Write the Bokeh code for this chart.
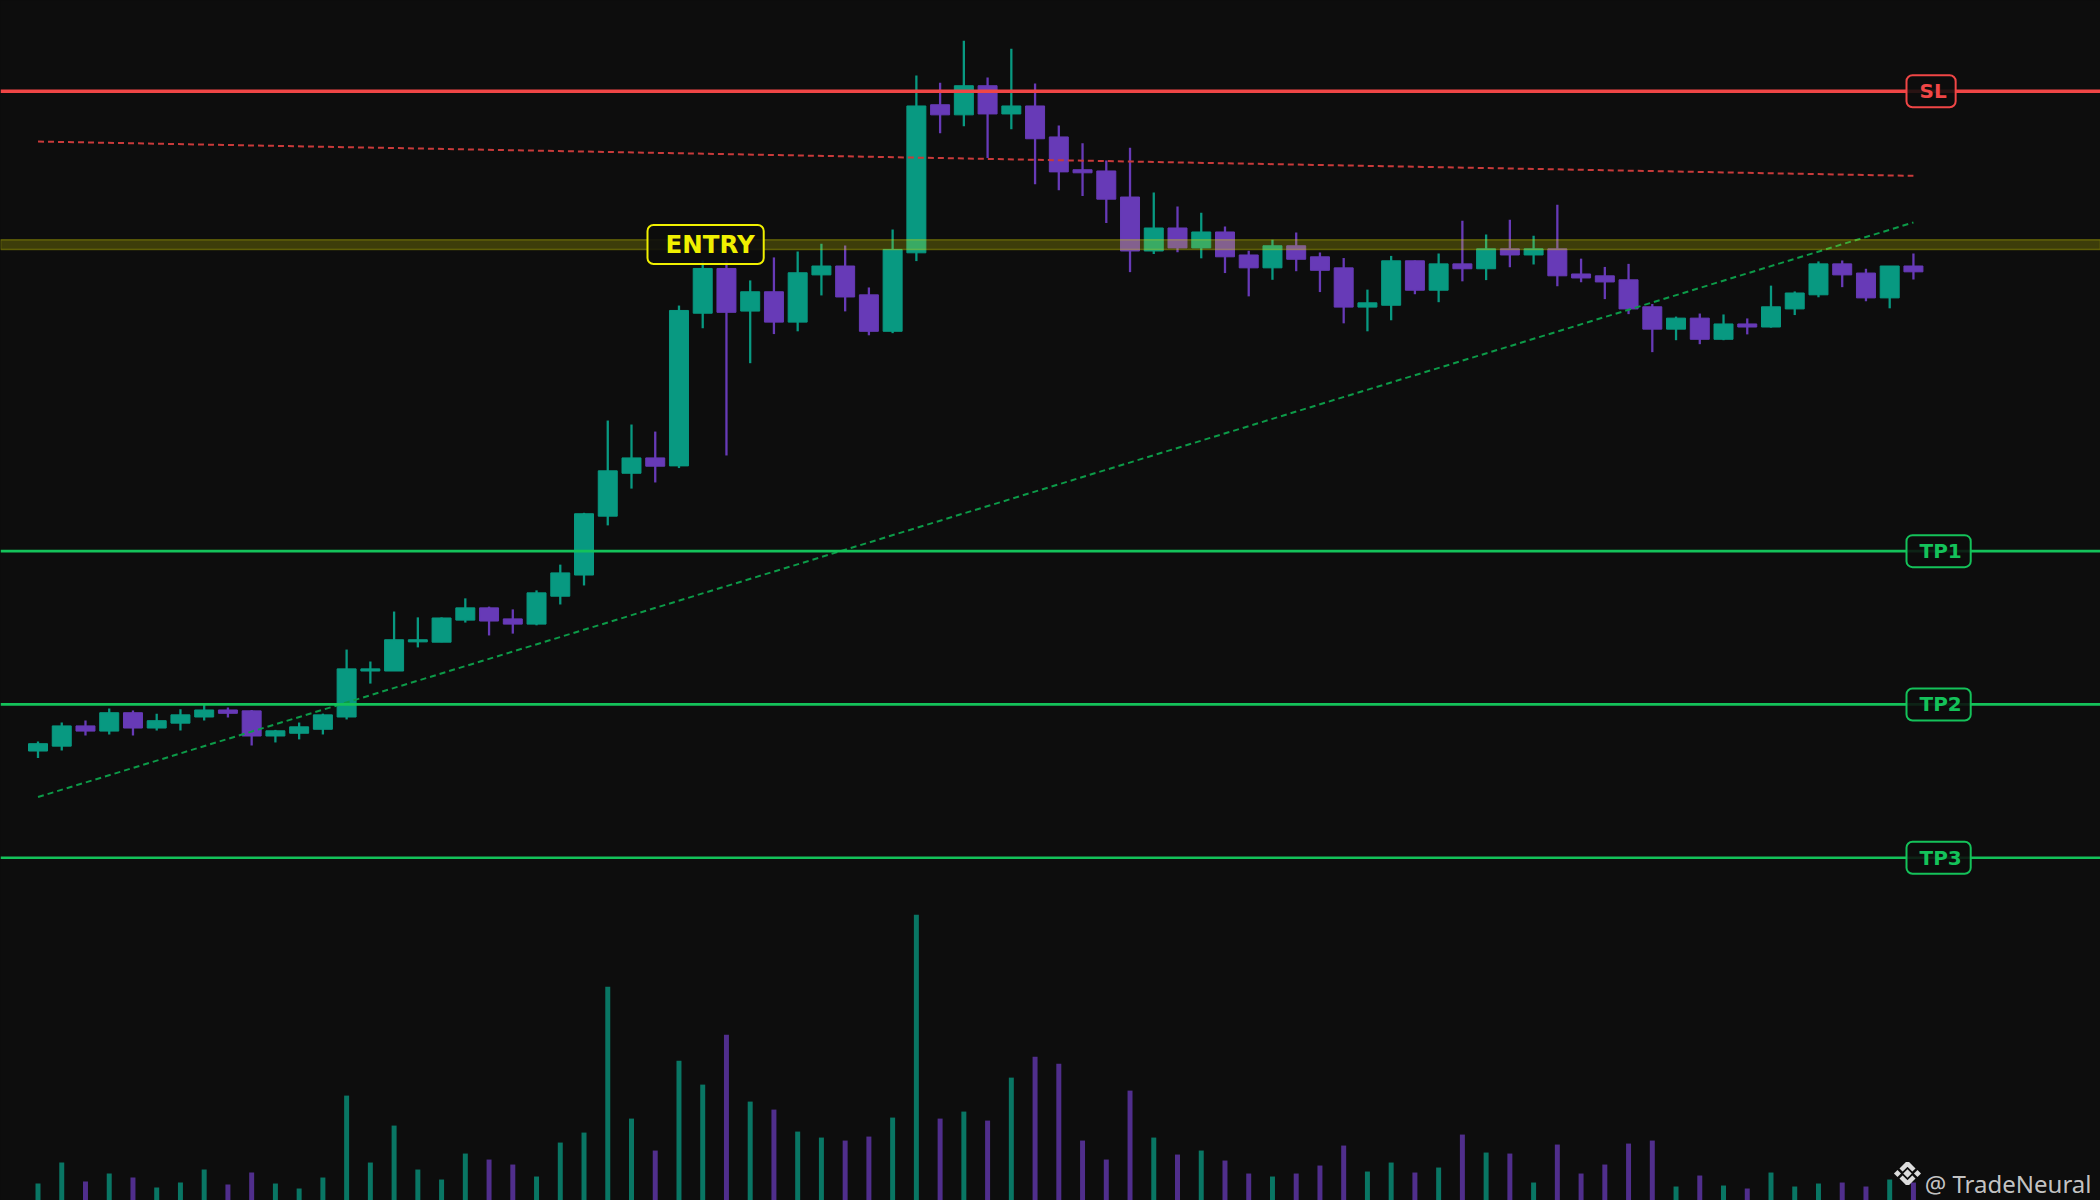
import math
from bokeh.plotting import figure
from bokeh.models import Range1d, Span, BoxAnnotation, Label, ColumnDataSource
from bokeh.embed import file_html
from bokeh.resources import INLINE

# ---------------- data ----------------
open_ = [83.48, 83.64, 84.30, 84.13, 84.73, 84.23, 84.39, 84.59, 84.82, 84.79,
         83.97, 84.06, 84.19, 84.59, 86.09, 86.09, 87.04, 87.03, 87.75, 88.15,
         87.79, 87.62, 88.53, 89.22, 91.14, 92.54, 93.04, 92.78, 97.76, 99.22,
         97.83, 98.46, 97.47, 99.01, 99.30, 98.36, 97.17, 99.73, 104.56, 104.23,
         105.18, 104.26, 104.52, 103.51, 102.44, 102.40, 101.55, 99.79, 100.54, 99.89,
         100.41, 99.66, 99.24, 99.96, 99.60, 99.24, 97.96, 98.02, 99.47, 98.51,
         99.37, 99.21, 99.86, 99.66, 99.86, 99.04, 98.98, 98.85, 97.97, 97.24,
         97.60, 96.91, 97.41, 97.31, 97.90, 98.36, 99.37, 99.07, 98.26, 99.30]
high = [83.79, 84.41, 84.48, 84.87, 84.80, 84.70, 84.84, 85.03, 84.90, 84.82,
        84.17, 84.41, 84.70, 86.79, 86.40, 88.03, 87.84, 87.84, 88.46, 88.19,
        88.10, 88.72, 89.56, 91.25, 94.26, 94.13, 93.90, 98.01, 99.48, 99.48,
        98.83, 99.58, 99.77, 100.03, 99.97, 98.60, 100.49, 105.51, 105.28, 106.65,
        105.45, 106.39, 105.25, 103.88, 103.30, 102.74, 103.16, 101.70, 101.24, 101.04,
        100.59, 99.80, 100.16, 100.39, 99.74, 99.56, 98.53, 99.63, 99.48, 99.71,
        100.78, 100.33, 100.81, 100.29, 101.30, 99.54, 99.27, 99.37, 98.06, 97.65,
        97.75, 97.72, 97.59, 98.66, 98.47, 99.45, 99.48, 99.21, 99.30, 99.71]
low = [83.25, 83.50, 83.99, 84.02, 83.99, 84.15, 84.15, 84.48, 84.57, 83.66,
       83.76, 83.86, 84.02, 84.51, 85.68, 86.09, 86.86, 87.03, 87.67, 87.25,
       87.31, 87.58, 88.26, 88.88, 90.84, 92.04, 92.24, 92.71, 97.27, 93.12,
       96.13, 97.08, 97.17, 98.34, 97.82, 97.04, 97.11, 99.46, 103.63, 103.86,
       102.82, 103.76, 101.97, 101.77, 101.58, 100.70, 99.10, 99.69, 99.75, 99.55,
       99.07, 98.31, 98.85, 99.13, 98.45, 97.43, 97.17, 97.53, 98.38, 98.12,
       98.80, 98.84, 99.26, 99.35, 98.64, 98.77, 98.22, 97.73, 96.49, 96.88,
       96.75, 96.88, 97.07, 97.29, 97.70, 98.28, 98.61, 98.15, 97.92, 98.86]
close = [83.72, 84.30, 84.13, 84.73, 84.23, 84.47, 84.66, 84.82, 84.71, 83.97,
         84.14, 84.27, 84.66, 86.16, 86.16, 87.11, 87.11, 87.82, 88.15, 87.72,
         87.62, 88.64, 89.29, 91.22, 92.62, 93.04, 92.77, 97.85, 99.22, 97.79,
         98.46, 97.47, 99.08, 99.30, 98.29, 97.17, 99.84, 104.52, 104.23, 105.18,
         104.26, 104.52, 103.45, 102.37, 102.34, 101.48, 99.79, 100.54, 99.89, 100.41,
         99.60, 99.24, 99.96, 99.52, 99.16, 97.96, 98.10, 99.47, 98.51, 99.37,
         99.21, 99.86, 99.66, 99.86, 98.98, 98.91, 98.78, 97.90, 97.24, 97.60,
         96.91, 97.41, 97.31, 97.97, 98.42, 99.37, 99.01, 98.26, 99.30, 99.11]
volume = [17, 38, 19, 27, 23, 13, 18, 31, 16, 28,
          17, 12, 23, 105, 38, 75, 31, 21, 47, 41,
          36, 24, 58, 68, 214, 82, 50, 140, 116, 166,
          99, 91, 69, 63, 60, 64, 83, 286, 82, 89,
          80, 123, 144, 137, 60, 41, 110, 63, 46, 50,
          40, 27, 24, 27, 35, 55, 29, 38, 28, 33,
          66, 48, 47, 18, 56, 27, 36, 57, 60, 14,
          25, 15, 12, 28, 14, 17, 18, 14, 21, 18]

entry_price = 100.0
entry_zone = 0.16
stop_loss = 105.0
take_profits = [90.0, 85.0, 80.0]
tp_names = ["TP1", "TP2", "TP3"]
trend_x = [0, 79]
resistance_y = [103.36, 102.24]
support_y = [81.98, 100.72]

# ---------------- style ----------------
BG = "#0d0d0d"
UP = "#089981"
DOWN = "#673ab7"
SL_COLOR = "#f04646"
TP_COLOR = "#14c25a"
ENTRY_COLOR = "#f0f000"
WM = "#dcdcdc"

W, H = 2100, 1200
xr = Range1d(-1.58, 86.88)
yr = Range1d(68.82, 107.96)


def x_of(px):
    return xr.start + px * (xr.end - xr.start) / W


def y_of(py):
    return yr.end - py * (yr.end - yr.start) / H


n = len(close)
colors = [UP if c >= o else DOWN for o, c in zip(open_, close)]
src = ColumnDataSource(dict(
    x=list(range(n)), high=high, low=low,
    top=[max(o, c) for o, c in zip(open_, close)],
    bottom=[min(o, c) for o, c in zip(open_, close)],
    volume=volume, color=colors,
))

p = figure(width=W, height=H, x_range=xr, y_range=yr,
           output_backend="svg", toolbar_location=None,
           x_axis_location=None, y_axis_location=None,
           min_border=0, background_fill_color=BG, border_fill_color=BG,
           outline_line_color=None)
p.grid.visible = False
p.extra_y_ranges = {"vol": Range1d(0, max(volume) * 4.2)}

# volume
p.vbar(x="x", top="volume", bottom=0, width=0.21, fill_color="color",
       fill_alpha=0.75, line_color=None, y_range_name="vol", source=src)
# candles
p.segment(x0="x", y0="low", x1="x", y1="high", line_color="color",
          line_width=2.3, source=src)
p.vbar(x="x", top="top", bottom="bottom", width=0.8, fill_color="color",
       line_color="color", line_width=1, source=src)

# trend lines
p.line(trend_x, resistance_y, line_color="#c83a3a", line_width=2, line_dash="6 4")
p.line(trend_x, support_y, line_color="#0c9a48", line_width=2, line_dash="6 4")

# watermark logo (diamond mark)
cx, cy = x_of(1907), y_of(1173)
dx = 10 * (xr.end - xr.start) / W
q = math.pi / 4
p.scatter([cx], [cy], marker="square", size=14, angle=q, fill_color=None,
          line_color=WM, line_width=4.5)
p.scatter([cx - dx, cx + dx], [cy, cy], marker="square", size=10, angle=q,
          fill_color=BG, line_color=None)
p.scatter([cx - dx, cx + dx], [cy, cy], marker="square", size=5, angle=q,
          fill_color=WM, line_color=None)
p.scatter([cx], [cy], marker="square", size=6, angle=q, fill_color=WM, line_color=None)

# entry zone
p.add_layout(BoxAnnotation(bottom=entry_price - entry_zone, top=entry_price + entry_zone,
                           fill_color="#e6e600", fill_alpha=0.22,
                           line_color="#e6e600", line_alpha=0.3, line_width=1.5))

# levels
p.add_layout(Span(location=stop_loss, dimension="width", line_color=SL_COLOR, line_width=3.5))
for tp in take_profits:
    p.add_layout(Span(location=tp, dimension="width", line_color=TP_COLOR, line_width=2.7))


def tag(x, y, text, color, size, pad):
    return Label(x=x, y=y, text=text, text_color=color,
                 text_font="DejaVu Sans", text_font_style="bold",
                 text_font_size=f"{size}px", text_align="left",
                 text_baseline="middle",
                 background_fill_color=BG, background_fill_alpha=0.88,
                 border_line_color=color, border_line_width=2,
                 border_radius=6, padding=pad)


p.add_layout(tag(x_of(647), entry_price, "ENTRY", ENTRY_COLOR, 24.5,
                 dict(left=18, right=9, top=5, bottom=5)))
p.add_layout(tag(x_of(1906), stop_loss, "SL", SL_COLOR, 20,
                 dict(left=13, right=9, top=4, bottom=4)))
for tp, name in zip(take_profits, tp_names):
    p.add_layout(tag(x_of(1906), tp, name, TP_COLOR, 20,
                     dict(left=13, right=9, top=4, bottom=4)))

# watermark text
p.add_layout(Label(x=x_of(2091), y=y_of(1183), text="@ TradeNeural", text_align="right",
                   text_baseline="alphabetic", text_font="Noto Sans",
                   text_font_size="24px", text_color=WM, text_alpha=0.9))

html = file_html(p, INLINE, title="chart")
html = html.replace("</head>",
                    "<style>html,body{margin:0;padding:0;background:#0d0d0d;overflow:hidden}</style></head>", 1)
open("out.html", "w").write(html)
